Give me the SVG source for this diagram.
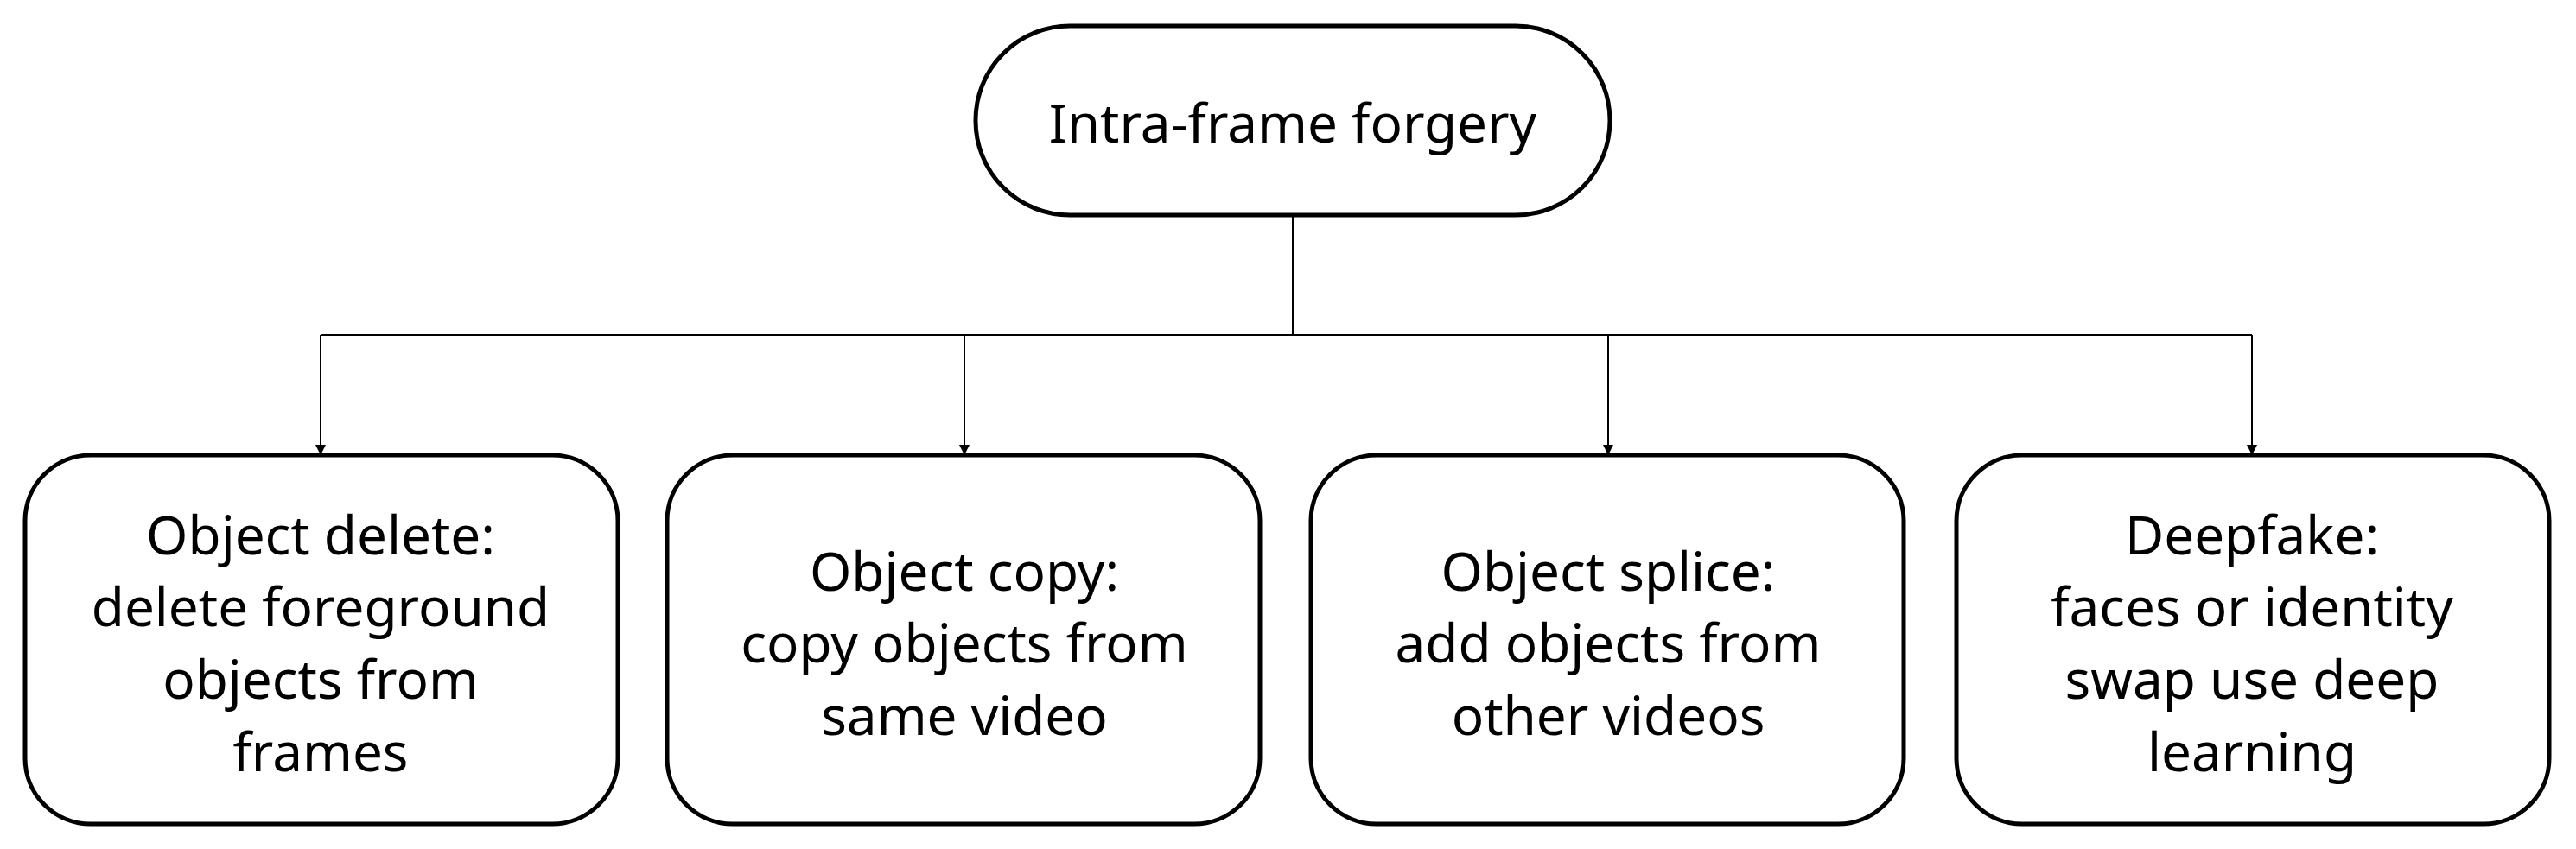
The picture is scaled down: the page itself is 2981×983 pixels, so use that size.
<svg xmlns="http://www.w3.org/2000/svg" width="2981" height="983" viewBox="0 0 2981 983">
<style>
.box{fill:#fff;stroke:#000;stroke-width:5}
.t{font-family:"Noto Sans","Noto Sans CJK SC",sans-serif;font-size:62px;fill:#000;text-anchor:middle;dominant-baseline:central}
.c{fill:none;stroke:#000;stroke-width:2}
</style>
<defs><marker id="a" markerWidth="12" markerHeight="12" refX="11" refY="6" orient="auto" markerUnits="userSpaceOnUse"><path d="M0,0L12,6L0,12z" fill="#000"/></marker></defs>
<rect width="2981" height="983" fill="#fff"/>
<g id="connectors">
<path class="c" d="M1496,249V388M371,388H2606"/>
<path class="c" d="M371,388V526" marker-end="url(#a)"/>
<path class="c" d="M1116,388V526" marker-end="url(#a)"/>
<path class="c" d="M1861,388V526" marker-end="url(#a)"/>
<path class="c" d="M2606,388V526" marker-end="url(#a)"/>
</g>
<g id="root"><rect class="box" x="1129" y="30" width="734" height="219" rx="109"/><text class="t" x="1496" y="141">Intra-frame forgery</text></g>
<g id="n1"><rect class="box" x="29" y="527" width="686" height="427" rx="76"/>
<text class="t" x="371" y="618">Object delete:</text><text class="t" x="371" y="701">delete foreground</text><text class="t" x="371" y="785">objects from</text><text class="t" x="371" y="869">frames</text></g>
<g id="n2"><rect class="box" x="772" y="527" width="686" height="427" rx="76"/>
<text class="t" x="1116" y="660">Object copy:</text><text class="t" x="1116" y="743">copy objects from</text><text class="t" x="1116" y="827">same video</text></g>
<g id="n3"><rect class="box" x="1517" y="527" width="686" height="427" rx="76"/>
<text class="t" x="1861" y="660">Object splice:</text><text class="t" x="1861" y="743">add objects from</text><text class="t" x="1861" y="827">other videos</text></g>
<g id="n4"><rect class="box" x="2264" y="527" width="686" height="427" rx="76"/>
<text class="t" x="2606" y="618">Deepfake:</text><text class="t" x="2606" y="701">faces or identity</text><text class="t" x="2606" y="785">swap use deep</text><text class="t" x="2606" y="869">learning</text></g>
</svg>
